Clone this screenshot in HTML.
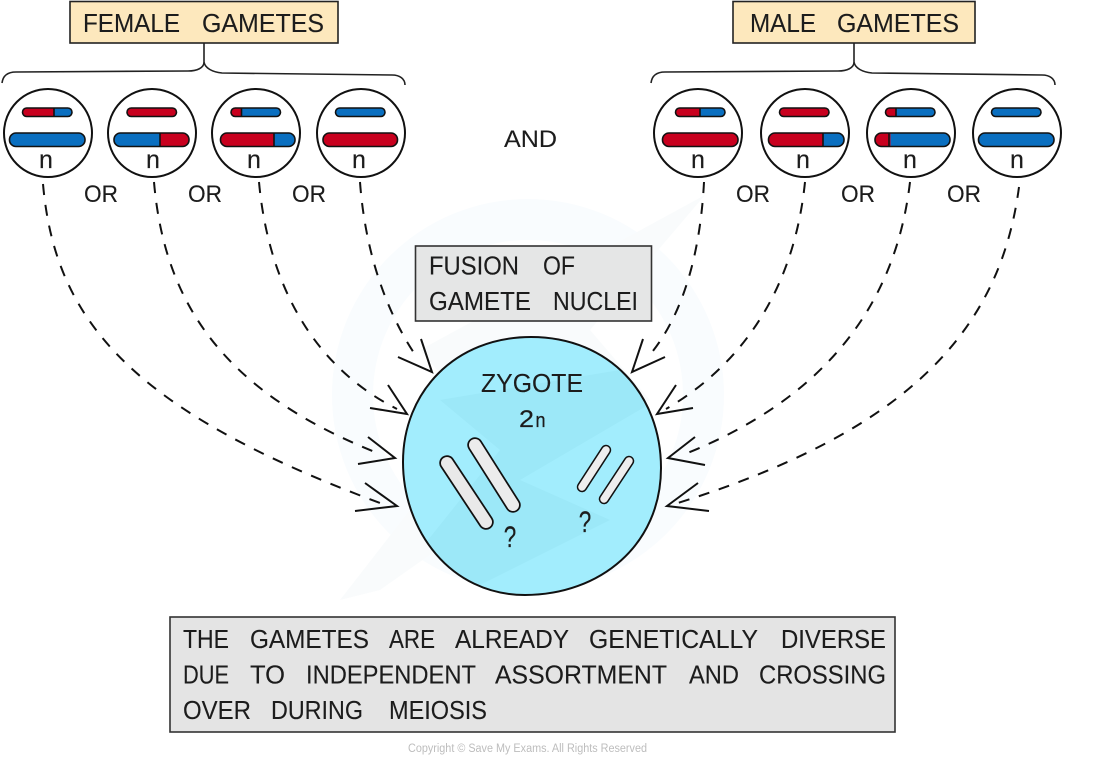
<!DOCTYPE html>
<html>
<head>
<meta charset="utf-8">
<style>
html,body{margin:0;padding:0;background:#fff;width:1100px;height:768px;overflow:hidden}
svg{display:block}
text{font-family:"Liberation Sans",sans-serif;fill:#1c1c1c}
.t{font-size:25.5px;stroke:#1c1c1c;stroke-width:.1}
.o{font-size:24px;stroke:#1c1c1c;stroke-width:.1}
.d{fill:none;stroke:#111;stroke-width:2;stroke-dasharray:11 10}
.h{fill:none;stroke:#111;stroke-width:2}
.c{fill:#fff;stroke:#111;stroke-width:2}
.b{fill:none;stroke:#222;stroke-width:1.6}
.k{stroke:#111;stroke-width:1.6}
.n{font-size:25px;stroke:#1c1c1c;stroke-width:.2}
</style>
</head>
<body>
<svg width="1100" height="768" viewBox="0 0 1100 768" xmlns="http://www.w3.org/2000/svg">
<defs>
<linearGradient id="rb64"><stop offset=".64" stop-color="#c8001e"/><stop offset=".64" stop-color="#0a6fc0"/></linearGradient>
<linearGradient id="rb20"><stop offset=".21" stop-color="#c8001e"/><stop offset=".21" stop-color="#0a6fc0"/></linearGradient>
<linearGradient id="rb72"><stop offset=".72" stop-color="#c8001e"/><stop offset=".72" stop-color="#0a6fc0"/></linearGradient>
<linearGradient id="rb50"><stop offset=".5" stop-color="#c8001e"/><stop offset=".5" stop-color="#0a6fc0"/></linearGradient>
<linearGradient id="br61"><stop offset=".61" stop-color="#0a6fc0"/><stop offset=".61" stop-color="#c8001e"/></linearGradient>
<clipPath id="zy"><path d="M531 337 C610 337 661 395 661 468 C661 545 600 595 525 595 C450 595 403 530 403 462 C403 392 455 337 531 337 Z"/></clipPath>
</defs>

<!-- watermark -->
<circle cx="528" cy="395" r="196" fill="#f9fcfe"/>
<circle cx="528" cy="395" r="155" fill="#fff"/>
<path d="M340 600 L480 420 L420 350 L705 195 L590 330 L650 400 L380 590 Z" fill="#f9fbfc"/>

<!-- top boxes -->
<rect x="70" y="1.5" width="268" height="41.5" fill="#fde8bd" stroke="#222" stroke-width="1.6"/>
<text class="t" x="83" y="32" textLength="97" lengthAdjust="spacingAndGlyphs">FEMALE</text>
<text class="t" x="202" y="32" textLength="122" lengthAdjust="spacingAndGlyphs">GAMETES</text>
<rect x="733" y="1.5" width="242" height="41.5" fill="#fde8bd" stroke="#222" stroke-width="1.6"/>
<text class="t" x="750" y="32" textLength="66" lengthAdjust="spacingAndGlyphs">MALE</text>
<text class="t" x="837" y="32" textLength="122" lengthAdjust="spacingAndGlyphs">GAMETES</text>

<!-- braces -->
<path class="b" d="M2 83 C3 75 8 72 16 72 L188 71 C197 71 204 68 204 62 M204 43 V62 C205 68 212 72 222 73 L392 75 C400 75 405 79 405 85"/>
<path class="b" d="M651 83 C652 75 657 72 665 72 L838 71 C847 71 854 68 854 62 M854 43 V62 C855 68 862 72 872 73 L1042 75 C1050 75 1055 79 1055 85"/>

<!-- gamete cells -->
<circle class="c" cx="48" cy="133" r="44"/>
<circle class="c" cx="152" cy="133" r="44"/>
<circle class="c" cx="256" cy="133" r="44"/>
<circle class="c" cx="361" cy="133" r="44"/>
<circle class="c" cx="698" cy="133" r="44"/>
<circle class="c" cx="805" cy="133" r="44"/>
<circle class="c" cx="911" cy="133" r="44"/>
<circle class="c" cx="1017" cy="133" r="44"/>

<!-- female chromosomes -->
<rect class="k" x="22.5" y="108" width="49.5" height="8.5" rx="4.2" fill="url(#rb64)"/><line class="k" x1="54" y1="108" x2="54" y2="116.5"/>
<rect class="k" x="9.5" y="133" width="75.5" height="13.5" rx="6.5" fill="#0a6fc0"/>
<rect class="k" x="127" y="108" width="49.5" height="8.5" rx="4.2" fill="#c8001e"/>
<rect class="k" x="114" y="133" width="75" height="13.5" rx="6.5" fill="url(#br61)"/><line class="k" x1="160" y1="133" x2="160" y2="146.5"/>
<rect class="k" x="231" y="108" width="49.5" height="8.5" rx="4.2" fill="url(#rb20)"/><line class="k" x1="241.5" y1="108" x2="241.5" y2="116.5"/>
<rect class="k" x="220.5" y="133" width="74.5" height="13.5" rx="6.5" fill="url(#rb72)"/><line class="k" x1="274" y1="133" x2="274" y2="146.5"/>
<rect class="k" x="335.5" y="108" width="49.5" height="8.5" rx="4.2" fill="#0a6fc0"/>
<rect class="k" x="323" y="133" width="74.5" height="13.5" rx="6.5" fill="#c8001e"/>

<!-- male chromosomes -->
<rect class="k" x="675.5" y="108" width="49.5" height="8.5" rx="4.2" fill="url(#rb50)"/><line class="k" x1="700" y1="108" x2="700" y2="116.5"/>
<rect class="k" x="662.5" y="133" width="75.5" height="13.5" rx="6.5" fill="#c8001e"/>
<rect class="k" x="779.5" y="108" width="49.5" height="8.5" rx="4.2" fill="#c8001e"/>
<rect class="k" x="768.5" y="133" width="75.5" height="13.5" rx="6.5" fill="url(#rb72)"/><line class="k" x1="823" y1="133" x2="823" y2="146.5"/>
<rect class="k" x="885.5" y="108" width="49.5" height="8.5" rx="4.2" fill="url(#rb20)"/><line class="k" x1="896" y1="108" x2="896" y2="116.5"/>
<rect class="k" x="875" y="133" width="75" height="13.5" rx="6.5" fill="url(#rb20)"/><line class="k" x1="889" y1="133" x2="889" y2="146.5"/>
<rect class="k" x="991.5" y="108" width="49.5" height="8.5" rx="4.2" fill="#0a6fc0"/>
<rect class="k" x="978.5" y="133" width="75.5" height="13.5" rx="6.5" fill="#0a6fc0"/>

<!-- n labels -->
<text class="n" x="46" y="168" text-anchor="middle">n</text>
<text class="n" x="153" y="168" text-anchor="middle">n</text>
<text class="n" x="254" y="168" text-anchor="middle">n</text>
<text class="n" x="359" y="168" text-anchor="middle">n</text>
<text class="n" x="698" y="168" text-anchor="middle">n</text>
<text class="n" x="803" y="168" text-anchor="middle">n</text>
<text class="n" x="910" y="168" text-anchor="middle">n</text>
<text class="n" x="1017" y="168" text-anchor="middle">n</text>

<!-- OR / AND -->
<text class="o" x="84" y="202" textLength="34" lengthAdjust="spacingAndGlyphs">OR</text>
<text class="o" x="188" y="202" textLength="34" lengthAdjust="spacingAndGlyphs">OR</text>
<text class="o" x="292" y="202" textLength="34" lengthAdjust="spacingAndGlyphs">OR</text>
<text class="o" x="736" y="202" textLength="34" lengthAdjust="spacingAndGlyphs">OR</text>
<text class="o" x="841" y="202" textLength="34" lengthAdjust="spacingAndGlyphs">OR</text>
<text class="o" x="947" y="202" textLength="34" lengthAdjust="spacingAndGlyphs">OR</text>
<text class="o" x="504" y="147" textLength="53" lengthAdjust="spacingAndGlyphs">AND</text>

<!-- dashed connectors -->
<path class="d" d="M43 184 C55 320 130 410 380 503"/>
<path class="d" d="M154 182 C165 310 230 395 380 454"/>
<path class="d" d="M259 182 C268 280 310 365 397 409"/>
<path class="d" d="M360 182 C365 250 385 310 416 356"/>
<path class="d" d="M704 182 C700 260 680 320 648 357"/>
<path class="d" d="M805 182 C795 280 750 360 666 409"/>
<path class="d" d="M910 182 C895 310 820 400 685 454"/>
<path class="d" d="M1019 187 C1000 330 910 430 678 503"/>

<!-- arrowheads -->
<path class="h" d="M365 483 L397 506 L355 511"/>
<path class="h" d="M368 437 L395 458 L358 464"/>
<path class="h" d="M388 385 L407 414 L370 408"/>
<path class="h" d="M421 339 L432 372 L398 357"/>
<path class="h" d="M643 339 L632 372 L665 357"/>
<path class="h" d="M676 385 L657 414 L693 408"/>
<path class="h" d="M695 437 L668 458 L705 465"/>
<path class="h" d="M698 483 L667 506 L709 511"/>

<!-- fusion box -->
<rect x="415.5" y="246" width="236" height="75" fill="#e5e6e6" stroke="#333" stroke-width="1.6"/>
<text class="t" x="429" y="274.5" textLength="90" lengthAdjust="spacingAndGlyphs">FUSION</text>
<text class="t" x="543" y="274.5" textLength="32" lengthAdjust="spacingAndGlyphs">OF</text>
<text class="t" x="429" y="310" textLength="102" lengthAdjust="spacingAndGlyphs">GAMETE</text>
<text class="t" x="553" y="310" textLength="85" lengthAdjust="spacingAndGlyphs">NUCLEI</text>

<!-- zygote -->
<path d="M531 337 C610 337 661 395 661 468 C661 545 600 595 525 595 C450 595 403 530 403 462 C403 392 455 337 531 337 Z" fill="#a2edfd"/>
<g clip-path="url(#zy)"><path d="M400 575 L500 450 L440 400 L620 370 L665 395 L520 480 L610 520 L470 590 Z" fill="#9ce8f8"/></g>
<path d="M531 337 C610 337 661 395 661 468 C661 545 600 595 525 595 C450 595 403 530 403 462 C403 392 455 337 531 337 Z" fill="none" stroke="#111" stroke-width="2"/>
<text class="t" x="481" y="392" textLength="102" lengthAdjust="spacingAndGlyphs">ZYGOTE</text>
<text x="519" y="427" font-size="24" stroke="#1c1c1c" stroke-width=".2" textLength="15" lengthAdjust="spacingAndGlyphs">2</text>
<text x="535.5" y="427" font-size="20" stroke="#1c1c1c" stroke-width=".3" textLength="10" lengthAdjust="spacingAndGlyphs">n</text>

<!-- zygote chromosomes -->
<g stroke-linecap="round">
<line x1="447" y1="463" x2="486" y2="522" stroke="#111" stroke-width="15.5"/>
<line x1="447" y1="463" x2="486" y2="522" stroke="#e9e9e9" stroke-width="12"/>
<line x1="475" y1="445" x2="513" y2="505" stroke="#111" stroke-width="15.5"/>
<line x1="475" y1="445" x2="513" y2="505" stroke="#ececec" stroke-width="12"/>
<line x1="606" y1="450" x2="582" y2="487" stroke="#111" stroke-width="10.5"/>
<line x1="606" y1="450" x2="582" y2="487" stroke="#eee" stroke-width="7.5"/>
<line x1="629" y1="461" x2="604" y2="499" stroke="#111" stroke-width="10.5"/>
<line x1="629" y1="461" x2="604" y2="499" stroke="#eee" stroke-width="7.5"/>
</g>
<text x="510" y="547" font-size="30" text-anchor="middle" stroke="#1c1c1c" stroke-width=".2" transform="translate(510 0) scale(.75 1) translate(-510 0)">?</text>
<text x="585" y="532" font-size="30" text-anchor="middle" stroke="#1c1c1c" stroke-width=".2" transform="translate(585 0) scale(.75 1) translate(-585 0)">?</text>

<!-- bottom box -->
<rect x="170" y="617" width="725" height="115" fill="#e4e4e4" stroke="#333" stroke-width="1.6"/>
<text class="t" x="183" y="648" textLength="46" lengthAdjust="spacingAndGlyphs">THE</text>
<text class="t" x="250" y="648" textLength="119" lengthAdjust="spacingAndGlyphs">GAMETES</text>
<text class="t" x="389" y="648" textLength="46" lengthAdjust="spacingAndGlyphs">ARE</text>
<text class="t" x="455" y="648" textLength="114" lengthAdjust="spacingAndGlyphs">ALREADY</text>
<text class="t" x="589" y="648" textLength="169" lengthAdjust="spacingAndGlyphs">GENETICALLY</text>
<text class="t" x="781" y="648" textLength="105" lengthAdjust="spacingAndGlyphs">DIVERSE</text>
<text class="t" x="183" y="683.5" textLength="46" lengthAdjust="spacingAndGlyphs">DUE</text>
<text class="t" x="250" y="683.5" textLength="35" lengthAdjust="spacingAndGlyphs">TO</text>
<text class="t" x="306" y="683.5" textLength="170" lengthAdjust="spacingAndGlyphs">INDEPENDENT</text>
<text class="t" x="495" y="683.5" textLength="172" lengthAdjust="spacingAndGlyphs">ASSORTMENT</text>
<text class="t" x="689" y="683.5" textLength="50" lengthAdjust="spacingAndGlyphs">AND</text>
<text class="t" x="759" y="683.5" textLength="127" lengthAdjust="spacingAndGlyphs">CROSSING</text>
<text class="t" x="183" y="719" textLength="68" lengthAdjust="spacingAndGlyphs">OVER</text>
<text class="t" x="271" y="719" textLength="92" lengthAdjust="spacingAndGlyphs">DURING</text>
<text class="t" x="389" y="719" textLength="98" lengthAdjust="spacingAndGlyphs">MEIOSIS</text>

<text x="408" y="752" font-size="11.5" textLength="239" lengthAdjust="spacingAndGlyphs" style="fill:#bdbdbd">Copyright © Save My Exams. All Rights Reserved</text>
</svg>
</body>
</html>
